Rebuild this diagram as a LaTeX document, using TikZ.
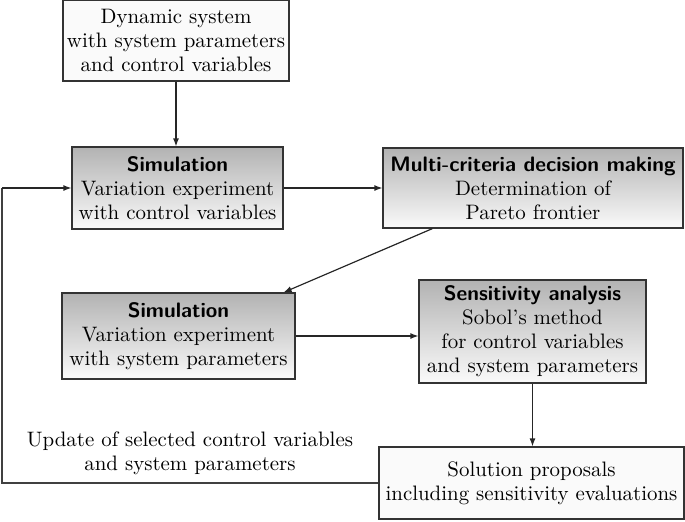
\documentclass[tikz,border=0pt]{standalone}
\usetikzlibrary{arrows.meta,calc}
\begin{document}
\begin{tikzpicture}[x=0.5pt,y=-0.5pt,
  every node/.style={font=\fontsize{10.45pt}{12pt}\selectfont},
  plainbox/.style={draw=black!80, line width=0.6pt, fill=black!2, align=center, inner sep=0pt},
  gradbox/.style={draw=black!80, line width=0.6pt, top color=black!30, bottom color=black!2, align=center, inner sep=0pt},
  conn/.style={draw=black!85, line width=0.6pt, -{Latex[length=4pt,width=3pt]}},
  loopline/.style={draw=black!75, line width=0.7pt}]
\useasboundingbox (0,0) rectangle (685,521);
\node[plainbox, minimum width=113pt, minimum height=40.5pt] (top) at (176,40.5)
  {Dynamic system\\ with system parameters\\ and control variables};
\node[gradbox, minimum width=105.5pt, minimum height=41pt] (sima) at (177.5,188)
  {\textsf{\textbf{Simulation}}\\ Variation experiment\\ with control variables};
\node[gradbox, minimum width=150pt, minimum height=40pt] (mcdm) at (533,188)
  {\textsf{\textbf{Multi-criteria decision making}}\\ Determination of\\ Pareto frontier};
\node[gradbox, minimum width=116.5pt, minimum height=43pt] (simb) at (178.5,336)
  {\textsf{\textbf{Simulation}}\\ Variation experiment\\ with system parameters};
\node[gradbox, minimum width=113.5pt, minimum height=51.5pt] (sens) at (532.5,331.5)
  {\textsf{\textbf{Sensitivity analysis}}\\ Sobol's method\\ for control variables\\ and system parameters};
\node[plainbox, minimum width=152.5pt, minimum height=36pt] (sol) at (531.5,483)
  {Solution proposals\\ including sensitivity evaluations};
\node[align=center, inner sep=0pt] (upd) at (190,453)
  {Update of selected control variables\\ and system parameters};
\coordinate (loopc) at (2,483);
\draw[conn] (top.south) -- (top.south |- sima.north);
\draw[conn] (sima.east) -- (mcdm.west);
\draw[conn] ([xshift=25pt]mcdm.south west) -- ([xshift=-6pt]simb.north east);
\draw[conn] (simb.east) -- (simb.east -| sens.west);
\draw[conn] (sens.south) -- (sens.south |- sol.north);
\draw[loopline] (sol.west) -- (sol.west -| loopc) -- (loopc |- sima.west);
\draw[conn] (loopc |- sima.west) -- (sima.west);
\end{tikzpicture}
\end{document}
